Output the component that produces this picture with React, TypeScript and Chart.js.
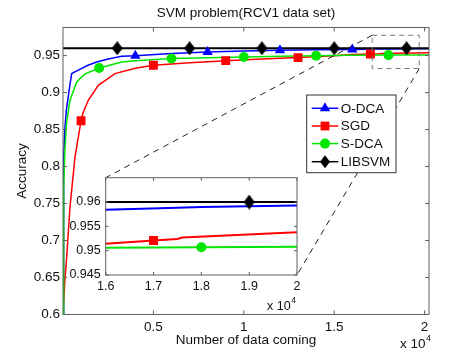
import React, { useEffect, useRef } from "react";
import { Chart, registerables } from "chart.js";

Chart.register(...registerables);

// ---------- text ----------
const TITLE = "SVM problem(RCV1 data set)";
const X_TITLE = "Number of data coming";
const Y_TITLE = "Accuracy";
const SERIES_NAMES = ["O-DCA", "SGD", "S-DCA", "LIBSVM"];

// ---------- ticks ----------
const xTicksMain = [5000, 10000, 15000, 20000];
const yTicksMain = [0.6, 0.65, 0.7, 0.75, 0.8, 0.85, 0.9, 0.95];
const xTicksInset = [16000, 17000, 18000, 19000, 20000];
const yTicksInset = [0.945, 0.95, 0.955, 0.96];

// ---------- series (curves) ----------
const odcaX = [10, 25, 45, 100, 180, 260, 380, 481, 900, 1383, 1864, 2500, 3246, 4000, 6000, 8000, 10000, 12000, 14000, 16000, 17500, 18000, 20242];
const odcaY = [0.6, 0.72, 0.81, 0.85, 0.875, 0.8896, 0.91, 0.9257, 0.931, 0.9369, 0.9414, 0.9455, 0.949, 0.9497, 0.953, 0.9549, 0.9562, 0.9572, 0.958, 0.9584, 0.9588, 0.9590, 0.9593];

const sgdX = [5, 17, 100, 205, 387, 664, 1000, 1100, 1399, 1952, 2876, 4000, 5000, 7000, 9000, 11000, 13000, 15000, 16000, 17000, 17500, 17600, 20242];
const sgdY = [0.6, 0.61, 0.645, 0.678, 0.7456, 0.8131, 0.862, 0.872, 0.8896, 0.9099, 0.9257, 0.933, 0.9369, 0.9405, 0.9432, 0.9453, 0.9473, 0.9497, 0.9514, 0.9521, 0.9524, 0.9527, 0.9539];

const sdcaX = [10, 25, 50, 100, 200, 387, 758, 1200, 2000, 3250, 4000, 6000, 8000, 10000, 12000, 14000, 16000, 18000, 20242];
const sdcaY = [0.6, 0.7, 0.77, 0.82, 0.86, 0.8896, 0.9144, 0.925, 0.9333, 0.9414, 0.943, 0.946, 0.9472, 0.9481, 0.949, 0.9497, 0.9506, 0.9507, 0.9508];

const libsvmX = [0, 20242];
const libsvmY = [0.96, 0.96];

// ---------- markers ----------
const odcaMarkX = [4000, 8000, 12000, 16000];
const odcaMarkY = [0.9497, 0.9549, 0.9572, 0.9584];
const sgdMarkX = [1000, 5000, 9000, 13000, 17000];
const sgdMarkY = [0.862, 0.9369, 0.9432, 0.9473, 0.9521];
const sdcaMarkX = [2000, 6000, 10000, 14000, 18000];
const sdcaMarkY = [0.9333, 0.946, 0.9481, 0.9497, 0.9507];
const libsvmMarkX = [3000, 7000, 11000, 15000, 19000];
const libsvmMarkY = [0.96, 0.96, 0.96, 0.96, 0.96];

// ---------- axis ranges ----------
const X_MIN = 0, X_MAX = 20242, Y_MIN = 0.6, Y_MAX = 0.988;
const IX_MIN = 16000, IX_MAX = 20000, IY_MIN = 0.945, IY_MAX = 0.965;
// dashed zoom rectangle drawn in main data coordinates
const ZOOM_X = [17100, 19700];
const ZOOM_Y = [0.9325, 0.9775];

// ---------- styling / layout ----------
const FONT = '"Liberation Sans", Arial, Helvetica, sans-serif';
const W = 474, H = 355;
const MAIN = { left: 63, top: 27.5, right: 429, bottom: 314.5 };
const INSET = { left: 105.7, top: 177.7, right: 297, bottom: 275 };
const COLORS = ["#0000ff", "#ff0000", "#00e600", "#000000"];
const STYLES = ["triangle", "rect", "circle", "diamond"];
const AXIS_COLOR = "#606060";
const TEXT_COLOR = "#111";

const pts = (xs: number[], ys: number[]) => xs.map((x, i) => ({ x, y: ys[i] }));
const fmt = (v: number) => String(parseFloat(v.toFixed(4)));

function makeDiamond(w: number, h: number, color: string) {
  const c = document.createElement("canvas");
  c.width = w; c.height = h;
  const g = c.getContext("2d")!;
  g.fillStyle = color;
  g.beginPath();
  g.moveTo(w / 2, 0); g.lineTo(w, h / 2); g.lineTo(w / 2, h); g.lineTo(0, h / 2);
  g.closePath(); g.fill();
  return c;
}

function drawMarker(ctx: CanvasRenderingContext2D, style: string, x: number, y: number, color: string) {
  ctx.save();
  ctx.fillStyle = color;
  ctx.beginPath();
  if (style === "triangle") {
    const r = 6;
    ctx.moveTo(x, y - r);
    ctx.lineTo(x + r * 0.866, y + r * 0.5);
    ctx.lineTo(x - r * 0.866, y + r * 0.5);
  } else if (style === "rect") {
    ctx.rect(x - 4.4, y - 4.4, 8.8, 8.8);
  } else if (style === "circle") {
    ctx.arc(x, y, 5, 0, Math.PI * 2);
  } else {
    ctx.moveTo(x, y - 6.5); ctx.lineTo(x + 5, y); ctx.lineTo(x, y + 6.5); ctx.lineTo(x - 5, y);
  }
  ctx.closePath();
  ctx.fill();
  ctx.restore();
}

function drawExp(ctx: CanvasRenderingContext2D, x: number, y: number, size: number) {
  ctx.save();
  ctx.fillStyle = TEXT_COLOR;
  ctx.textAlign = "left";
  ctx.textBaseline = "middle";
  ctx.font = `${size}px ${FONT}`;
  ctx.fillText("x 10", x, y);
  const w = ctx.measureText("x 10").width;
  ctx.font = `${size * 0.68}px ${FONT}`;
  ctx.fillText("4", x + w + 0.5, y - 6);
  ctx.restore();
}

function frameAndTicks(chart: any, xt: number[], yt: number[], len: number) {
  const { ctx, chartArea: a, scales } = chart;
  ctx.save();
  ctx.strokeStyle = AXIS_COLOR;
  ctx.lineWidth = 1;
  ctx.strokeRect(a.left, a.top, a.right - a.left, a.bottom - a.top);
  ctx.beginPath();
  xt.forEach((v) => {
    const px = scales.x.getPixelForValue(v);
    ctx.moveTo(px, a.bottom); ctx.lineTo(px, a.bottom - len);
    ctx.moveTo(px, a.top); ctx.lineTo(px, a.top + len);
  });
  yt.forEach((v) => {
    const py = scales.y.getPixelForValue(v);
    ctx.moveTo(a.left, py); ctx.lineTo(a.left + len, py);
    ctx.moveTo(a.right, py); ctx.lineTo(a.right - len, py);
  });
  ctx.stroke();
  ctx.restore();
}

function buildDatasets(inset: boolean, diamond: HTMLCanvasElement) {
  const lines = [
    pts(odcaX, odcaY), pts(sgdX, sgdY), pts(sdcaX, sdcaY), pts(libsvmX, libsvmY),
  ];
  const marks = [
    pts(odcaMarkX, odcaMarkY), pts(sgdMarkX, sgdMarkY), pts(sdcaMarkX, sdcaMarkY), pts(libsvmMarkX, libsvmMarkY),
  ];
  const ds: any[] = [];
  lines.forEach((d, i) => {
    ds.push({
      label: SERIES_NAMES[i],
      data: d,
      borderColor: COLORS[i],
      backgroundColor: COLORS[i],
      borderWidth: inset ? 2 : i === 3 ? 2 : 1.5,
      pointRadius: 0,
      tension: 0,
      order: 10 + (3 - i),
    });
  });
  marks.forEach((d, i) => {
    const data = inset ? d.filter((p) => p.x > IX_MIN && p.x <= IX_MAX) : d;
    const style = STYLES[i] === "diamond" ? diamond : STYLES[i];
    ds.push({
      label: SERIES_NAMES[i] + " markers",
      data,
      showLine: false,
      pointStyle: style,
      pointRadius: STYLES[i] === "triangle" ? 6 : STYLES[i] === "rect" ? 6.3 : 5,
      pointBackgroundColor: COLORS[i],
      pointBorderColor: COLORS[i],
      pointBorderWidth: 0,
      order: 3 - i,
    });
  });
  return ds;
}

export default function App() {
  const mainRef = useRef<HTMLCanvasElement>(null);
  const insetRef = useRef<HTMLCanvasElement>(null);

  useEffect(() => {
    Chart.defaults.font.family = FONT;
    Chart.defaults.color = TEXT_COLOR;
    const diamond = makeDiamond(11, 14, "#000000");

    const mainDecor = {
      id: "mainDecor",
      afterDatasetsDraw(chart: any) {
        const { ctx, scales } = chart;
        const bx0 = scales.x.getPixelForValue(ZOOM_X[0]);
        const bx1 = scales.x.getPixelForValue(ZOOM_X[1]);
        const by0 = scales.y.getPixelForValue(ZOOM_Y[1]);
        const by1 = scales.y.getPixelForValue(ZOOM_Y[0]);
        ctx.save();
        ctx.lineWidth = 1;
        ctx.setLineDash([5, 4]);
        ctx.strokeStyle = "#777";
        ctx.strokeRect(bx0, by0, bx1 - bx0, by1 - by0);
        ctx.strokeStyle = "#222";
        ctx.setLineDash([6, 5]);
        ctx.beginPath();
        ctx.moveTo(bx0, by0); ctx.lineTo(INSET.left, INSET.top);
        ctx.moveTo(bx1, by1); ctx.lineTo(INSET.right, INSET.bottom);
        ctx.stroke();
        ctx.restore();
      },
      afterDraw(chart: any) {
        const { ctx, chartArea: a } = chart;
        frameAndTicks(chart, xTicksMain, yTicksMain, 4);
        ctx.save();
        ctx.fillStyle = TEXT_COLOR;
        ctx.font = `13.5px ${FONT}`;
        ctx.textAlign = "center";
        ctx.textBaseline = "middle";
        const cx = (a.left + a.right) / 2;
        ctx.fillText(TITLE, cx, 13);
        ctx.fillText(X_TITLE, cx, 340);
        ctx.save();
        ctx.translate(22, (a.top + a.bottom) / 2);
        ctx.rotate(-Math.PI / 2);
        ctx.fillText(Y_TITLE, 0, 0);
        ctx.restore();
        ctx.restore();
        drawExp(ctx, 400, 344, 13.5);

        // legend
        const lx = 306.7, ly = 95, lw = 89.3, lh = 77.7;
        ctx.save();
        ctx.fillStyle = "#fff";
        ctx.fillRect(lx, ly, lw, lh);
        ctx.strokeStyle = "#333";
        ctx.lineWidth = 1;
        ctx.strokeRect(lx, ly, lw, lh);
        const rows = [108.3, 126, 143.6, 161.7];
        rows.forEach((ry, i) => {
          ctx.strokeStyle = COLORS[i];
          ctx.lineWidth = 1.5;
          ctx.beginPath();
          ctx.moveTo(311.7, ry); ctx.lineTo(338.3, ry);
          ctx.stroke();
          drawMarker(ctx, STYLES[i], 325, ry, COLORS[i]);
          ctx.fillStyle = TEXT_COLOR;
          ctx.font = `13.5px ${FONT}`;
          ctx.textAlign = "left";
          ctx.textBaseline = "middle";
          ctx.fillText(SERIES_NAMES[i], 340.7, ry + 0.5);
        });
        ctx.restore();
      },
    };

    const insetDecor = {
      id: "insetDecor",
      beforeDatasetsDraw(chart: any) {
        const { ctx, chartArea: a } = chart;
        ctx.save();
        ctx.fillStyle = "#fff";
        ctx.fillRect(a.left, a.top, a.right - a.left, a.bottom - a.top);
        ctx.restore();
      },
      afterDraw(chart: any) {
        frameAndTicks(chart, xTicksInset, yTicksInset, 3);
        drawExp(chart.ctx, 267, 307, 12.5);
      },
    };

    const insetChart = new Chart(insetRef.current!, {
      type: "line",
      data: { datasets: buildDatasets(true, makeDiamond(11, 15, "#000000")) },
      options: {
        responsive: false,
        animation: false,
        events: [],
        layout: { padding: { left: 0, top: INSET.top, right: W - INSET.right, bottom: 0 } },
        plugins: { legend: { display: false }, tooltip: { enabled: false }, title: { display: false } },
        scales: {
          x: {
            type: "linear",
            min: IX_MIN,
            max: IX_MAX,
            grid: { display: false, drawTicks: false },
            border: { display: false },
            afterBuildTicks: (s: any) => { s.ticks = xTicksInset.map((v) => ({ value: v })); },
            afterFit: (s: any) => { s.height = H - INSET.bottom; },
            ticks: {
              autoSkip: false, maxRotation: 0, minRotation: 0, padding: 4,
              color: TEXT_COLOR, font: { size: 12.5, family: FONT },
              callback: (v: any) => fmt(Number(v) / 1e4),
            },
          },
          y: {
            type: "linear",
            min: IY_MIN,
            max: IY_MAX,
            grid: { display: false, drawTicks: false },
            border: { display: false },
            afterBuildTicks: (s: any) => { s.ticks = yTicksInset.map((v) => ({ value: v })); },
            afterFit: (s: any) => { s.width = INSET.left; },
            ticks: {
              autoSkip: false, padding: 5,
              color: TEXT_COLOR, font: { size: 12.5, family: FONT },
              callback: (v: any) => fmt(Number(v)),
            },
          },
        },
      },
      plugins: [insetDecor],
    } as any);

    const mainChart = new Chart(mainRef.current!, {
      type: "line",
      data: { datasets: buildDatasets(false, diamond) },
      options: {
        responsive: false,
        animation: false,
        events: [],
        layout: { padding: { left: 0, top: MAIN.top, right: W - MAIN.right, bottom: 0 } },
        plugins: { legend: { display: false }, tooltip: { enabled: false }, title: { display: false } },
        scales: {
          x: {
            type: "linear",
            min: X_MIN,
            max: X_MAX,
            grid: { display: false, drawTicks: false },
            border: { display: false },
            afterBuildTicks: (s: any) => { s.ticks = xTicksMain.map((v) => ({ value: v })); },
            afterFit: (s: any) => { s.height = H - MAIN.bottom; },
            ticks: {
              autoSkip: false, maxRotation: 0, minRotation: 0, padding: 5,
              color: TEXT_COLOR, font: { size: 13.5, family: FONT },
              callback: (v: any) => fmt(Number(v) / 1e4),
            },
          },
          y: {
            type: "linear",
            min: Y_MIN,
            max: Y_MAX,
            grid: { display: false, drawTicks: false },
            border: { display: false },
            afterBuildTicks: (s: any) => { s.ticks = yTicksMain.map((v) => ({ value: v })); },
            afterFit: (s: any) => { s.width = MAIN.left; },
            ticks: {
              autoSkip: false, padding: 3,
              color: TEXT_COLOR, font: { size: 13.5, family: FONT },
              callback: (v: any) => fmt(Number(v)),
            },
          },
        },
      },
      plugins: [mainDecor],
    } as any);

    return () => {
      mainChart.destroy();
      insetChart.destroy();
    };
  }, []);

  return (
    <div style={{ position: "fixed", left: 0, top: 0, width: W, height: H, background: "#fff" }}>
      <canvas ref={mainRef} width={W} height={H} style={{ position: "absolute", left: 0, top: 0 }} />
      <canvas ref={insetRef} width={W} height={H} style={{ position: "absolute", left: 0, top: 0, pointerEvents: "none" }} />
    </div>
  );
}
